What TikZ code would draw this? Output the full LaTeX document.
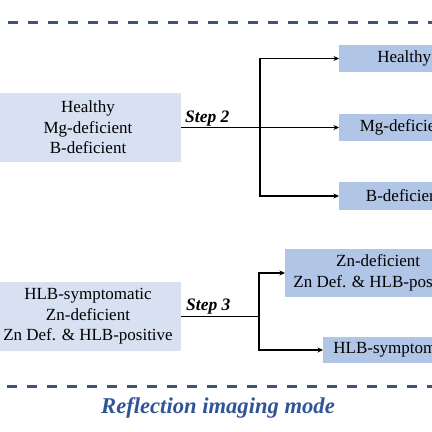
\documentclass[tikz,border=0pt]{standalone}
\usepackage{fontspec}
\setmainfont{Liberation Serif}
\usetikzlibrary{arrows.meta}
\definecolor{lightbox}{HTML}{D8E1F2}
\definecolor{darkbox}{HTML}{B1C5E6}
\definecolor{dashcol}{HTML}{3C5579}
\definecolor{titlecol}{HTML}{2F5597}
\tikzset{
  txt/.style={font=\fontsize{17}{20.5}\selectfont, align=center, inner sep=0pt},
  lbox/.style={txt, fill=lightbox, minimum width=186pt, minimum height=69pt},
  rbox/.style={txt, fill=darkbox, anchor=west},
  conn/.style={line width=1.5pt, -{Stealth[length=5.5pt,width=5pt]}},
  plain/.style={line width=1.5pt},
  steplbl/.style={font=\fontsize{17.5}{20}\selectfont\bfseries\itshape, anchor=base west, inner sep=0pt},
  sep/.style={dashcol, line width=3pt, dash pattern=on 10pt off 10pt}
}
\begin{document}
\begin{tikzpicture}[x=1pt,y=-1pt]
\useasboundingbox (0,0) rectangle (432,432);
\clip (0,0) rectangle (432,432);
% separators
\coordinate (t1) at (8,22);
\coordinate (t2) at (440,22);
\draw[sep] (t1) -- (t2);
\coordinate (b1s) at (-13,386);
\coordinate (b1e) at (440,386);
\draw[sep] (b1s) -- (b1e);
% left boxes
\node[lbox] (L1) at (88,127.5) {Healthy\\Mg-deficient\\B-deficient};
\node[lbox] (L2) at (88,316.5) {HLB-symptomatic\\Zn-deficient\\Zn Def. \& HLB-positive};
% right boxes top
\node[rbox, minimum width=130pt, minimum height=27pt] (R1) at (339,58.5) {Healthy};
\node[rbox, minimum width=130pt, minimum height=27pt] (R2) at (339,127.5) {Mg-deficient};
\node[rbox, minimum width=130pt, minimum height=28pt] (R3) at (339,196) {B-deficient};
% right boxes bottom
\node[rbox, minimum width=186pt, minimum height=48pt] (R4) at (285,273) {Zn-deficient\\Zn Def. \& HLB-positive};
\node[rbox, minimum width=148pt, minimum height=26pt] (R5) at (323,350) {HLB-symptomatic};
% connectors top
\coordinate (j1) at (260,127.5);
\draw[conn] (L1.east) -- (R2.west);
\draw[conn] (j1) |- (R1.west);
\draw[conn] (j1) |- (R3.west);
\node[steplbl] (s2) at (185,122) {Step 2};
% connectors bottom
\coordinate (j2) at (259,316.5);
\draw[plain] (L2.east) -- (j2);
\draw[conn] (j2) |- (R4.west);
\draw[conn] (j2) |- (R5.west);
\node[steplbl] (s3) at (186,310) {Step 3};
% title
\node[font=\fontsize{22.6}{26}\selectfont\bfseries\itshape, text=titlecol, anchor=base, inner sep=0pt] (title) at (218,413) {Reflection imaging mode};
\end{tikzpicture}
\end{document}
